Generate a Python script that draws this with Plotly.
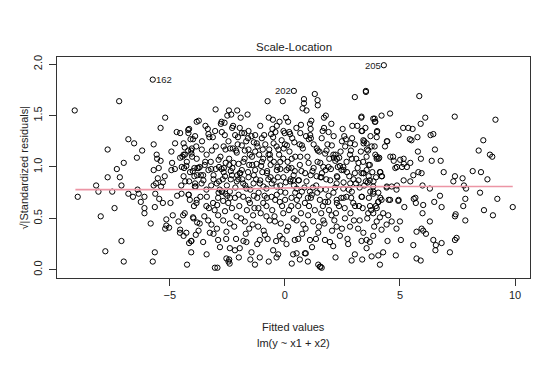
import plotly.graph_objects as go

# (fitted value, sqrt(|standardized residual|))
left_points = [
    (-9.13,1.55),(-9.0,0.71),(-7.2,1.64),(-8.2,0.82),(-8.1,0.76),(-8.0,0.52),(-7.7,1.17),(-7.7,0.90),
    (-7.8,0.18),(-7.5,0.76),(-7.4,0.60),(-7.3,0.98),(-7.17,0.90),(-7.1,0.82),(-7.1,0.28),(-7.0,1.04),
    (-7.0,0.08),(-6.8,1.27),(-6.8,0.74),(-6.6,0.71),(-6.55,1.23),(-6.43,1.09),(-6.4,0.78),(-6.35,0.74),
    (-6.26,0.66),(-6.2,1.16),(-6.1,0.71),(-6.1,0.60),(-6.1,0.55),(-5.83,0.45),(-5.74,0.08),(-5.65,0.17),
    (-5.7,1.22),(-5.7,0.97),(-5.7,0.82),(-5.6,0.84),(-5.57,1.12),(-5.55,1.08),(-5.65,0.61),(-5.63,0.74),
    (-5.52,0.89),(-5.48,0.99),(-5.46,0.69),(-5.4,1.06),(-5.4,1.38),(-5.38,0.81),(-5.3,0.85),(-5.2,1.48),
    (-5.3,0.65),(-5.22,0.91),(-5.2,0.40),(-5.15,0.49),(-5.15,0.43),(-5.03,0.41),(-4.97,0.65),(-4.93,0.97),
    (-4.93,1.15),(-4.9,1.04),(-4.87,0.53),(-4.77,1.23),(-4.78,0.98),(-4.7,1.34),(-4.68,0.72),(-4.62,0.47),
    (-4.56,0.36),(-4.55,1.09),(-4.55,0.39),(-4.5,0.82),(-4.42,0.53),(-4.4,0.33),(-4.4,0.91),(-4.38,0.99),
    (-4.34,1.12),(-4.26,1.05),(-4.25,0.05),(-4.2,1.16),(-4.2,1.36),(-4.17,0.73),(-4.1,1.27),(-4.07,1.16),
    (-4.16,0.26),(-4.07,0.28),(-4.07,0.17),(-4.03,1.10),(-4.0,0.96),(-3.97,0.50),(-3.93,0.91),(-3.87,0.34),
    (-3.83,1.44),(-3.88,0.81),(-3.81,0.46),(-3.8,0.99),(-2.93,0.02),(-2.45,0.08),(-2.4,0.06),
]

centre_points = [
    (-0.09,1.64),(-0.75,1.64),(0.83,1.66),(0.83,1.62),(1.30,1.71),(1.42,1.65),(1.43,1.60),(0.77,1.57),
    (0.94,1.55),(3.04,1.68),(3.52,1.74),(-3.01,1.56),(-2.43,1.55),(-2.33,1.51),(-2.07,1.55),(-1.62,1.51),
    (-2.5,1.50),(-3.74,1.45),(-2.75,1.44),(-2.62,1.43),(-1.07,1.40),(-0.52,1.46),(-0.23,1.44),(0.14,1.44),
    (0.70,1.41),(1.09,1.42),(1.70,1.48),(1.78,1.50),(2.51,1.37),(2.93,1.40),(3.32,1.48),(3.9,1.47),
    (3.93,1.44),(3.36,1.35),(-4.16,1.37),(-3.35,1.37),(-3.28,1.29),(-3.13,1.29),(-3.99,1.27),(-2.29,1.38),
    (-1.96,1.38),(-1.76,1.33),(-1.6,1.28),(-1.35,1.24),(-1.29,1.15),(-1.19,1.20),(-2.04,1.29),(-2.61,1.31),
    (-2.58,1.17),(-2.26,1.18),(-2.12,1.16),(-1.74,1.16),(-1.52,1.12),(-0.54,1.37),(-0.41,1.34),(-0.51,1.29),
    (-0.01,1.33),(0.19,1.34),(0.41,1.24),(0.64,1.22),(0.0,1.22),(-0.68,1.17),(-0.65,1.12),(-0.36,1.20),
    (-0.14,1.26),(1.12,1.37),(1.13,1.28),(1.04,1.27),(1.64,1.35),(1.43,1.16),(1.81,1.16),(2.13,1.09),
    (2.2,1.12),(2.19,1.06),(2.36,1.09),(2.39,1.01),(2.54,1.00),(1.93,1.08),(1.9,1.00),(1.77,0.97),
    (1.67,1.00),(2.46,0.97),(2.65,1.27),(2.87,1.16),(2.83,1.12),(3.04,1.22),(3.45,1.25),(3.77,1.20),
    (3.99,1.29),(3.55,1.10),(3.99,1.10),(3.16,0.99),(3.04,0.94),(3.41,0.94),(2.8,0.91),(3.96,0.90),
    (-4.35,1.19),(-4.45,1.10),(-4.06,1.13),(-4.28,1.01),(-3.93,0.99),(-3.7,1.00),(-3.48,1.02),(-3.81,0.92),
    (-3.55,0.92),(-3.2,0.98),(-3.0,0.98),(-2.86,1.00),(-2.75,0.98),(-2.65,0.99),(-2.57,1.04),(-2.41,1.02),
    (-2.28,0.99),(-2.01,1.03),(-1.96,0.94),(-1.87,0.97),(-2.07,0.92),(-3.1,0.88),(-2.86,0.86),(-2.6,0.91),
    (-2.35,0.88),(-1.55,1.02),(-1.35,0.92),(-1.23,1.03),(-1.03,1.01),(-0.94,1.08),(-0.77,0.96),(-0.62,1.02),
    (-0.32,1.00),(-0.07,1.08),(0.07,0.97),(0.29,0.99),(0.43,0.96),(0.36,0.87),(0.72,0.96),(0.61,0.87),
    (0.94,0.86),(1.2,0.96),(1.38,0.91),(1.59,0.90),(-4.16,0.86),(-3.91,0.81),(-3.62,0.84),(-3.41,0.78),
    (-2.83,0.78),(-2.72,0.76),(-2.58,0.74),(-2.39,0.76),(-1.81,0.84),(-1.67,0.79),(-1.09,0.84),(-0.8,0.79),
    (-0.36,0.81),(-0.19,0.76),(0.04,0.85),(0.51,0.79),(1.09,0.76),(1.41,0.75),(1.78,0.78),(2.25,0.84),
    (2.54,0.79),(3.09,0.84),(3.52,0.86),(3.84,0.76),(-4.49,0.74),(-4.13,0.68),(-3.84,0.65),(-3.67,0.71),
    (-3.41,0.62),(-3.12,0.65),(-2.94,0.63),(-2.68,0.67),(-2.46,0.65),(-2.17,0.70),(-1.81,0.71),(-1.52,0.65),
    (-1.2,0.70),(-0.94,0.65),(-0.58,0.71),(-0.22,0.66),(0.29,0.70),(0.58,0.62),(0.87,0.65),(1.13,0.70),
    (1.52,0.68),(1.88,0.66),(2.25,0.68),(2.68,0.71),(2.97,0.65),(3.33,0.71),(3.7,0.62),(4.06,0.66),
    (-4.35,0.55),(-3.99,0.51),(-3.7,0.45),(-3.33,0.48),(-3.19,0.44),(-2.9,0.53),(-2.39,0.45),(-2.1,0.52),
    (-1.74,0.47),(-1.38,0.53),(-1.16,0.42),(-0.8,0.52),(-0.43,0.47),(-0.07,0.55),(0.14,0.42),(0.51,0.48),
    (0.8,0.44),(1.01,0.53),(1.23,0.47),(1.67,0.48),(2.03,0.53),(2.25,0.42),(2.61,0.50),(2.83,0.42),
    (3.25,0.48),(3.62,0.55),(3.99,0.47),(-4.28,0.36),(-4.06,0.28),(-3.55,0.27),(-3.26,0.36),(-2.9,0.29),
    (-2.54,0.37),(-2.39,0.21),(-2.17,0.19),(-1.96,0.21),(-1.67,0.27),(-1.45,0.17),(-1.09,0.29),(-0.87,0.34),
    (-0.51,0.19),(-0.29,0.15),(-0.22,0.33),(0.07,0.25),(0.43,0.29),(0.51,0.16),(0.87,0.16),(1.09,0.29),
    (1.45,0.36),(1.74,0.29),(1.96,0.27),(2.1,0.23),(2.39,0.33),(2.75,0.25),(3.04,0.15),(3.33,0.28),
    (3.55,0.21),(3.84,0.33),(-3.04,0.02),(-2.54,0.11),(-2.42,0.10),(-1.09,0.12),(-0.36,0.12),(0.36,0.15),
    (0.91,0.16),(1.45,0.05),(1.52,0.03),(3.36,0.10),(3.77,0.13),(1.55,0.03),(1.6,0.02),
    (-4.55,1.33),(-4.19,1.33),(-3.9,1.30),(-3.32,1.32),(-3.03,1.35),(-2.74,1.34),(-2.16,1.31),(-1.87,1.33),
    (-1.58,1.35),(-1.29,1.31),(-0.9,1.31),(-0.06,1.35),(0.23,1.32),(-4.4,1.23),(-4.04,1.18),(-4.4,1.12),
    (-3.61,1.17),(-3.17,1.16),(-2.66,1.20),(-2.38,1.18),(-2.09,1.14),(-1.87,1.21),(-1.58,1.17),(-1.22,1.23),
    (-0.96,1.17),(-0.71,1.12),(-0.49,1.23),(-0.28,1.17),(0.09,1.21),(0.3,1.08),(-3.83,1.08),(-3.46,1.05),
    (-2.88,1.07),(-2.23,1.04),(-1.8,1.05),(-1.43,1.10),(-1.0,1.05),(-0.64,1.08),(-0.2,1.05),(0.16,0.99),
    (-4.48,1.00),(-4.12,0.95),(-3.75,0.99),(-3.32,0.97),(-3.1,0.92),(-2.66,0.95),(-2.3,0.92),(-1.94,0.94),
    (-1.58,0.90),(-1.29,0.97),(-1.07,0.87),(-0.78,0.94),(-0.49,0.87),(-0.35,0.97),(-0.06,0.90),(0.38,0.92),
    (-4.33,0.86),(-3.9,0.84),(-3.54,0.87),(-2.96,0.84),(-2.52,0.82),(-2.09,0.86),(-1.72,0.82),(-1.36,0.84),
    (-0.93,0.81),(-0.57,0.84),(-0.2,0.82),(0.23,0.86),(-4.19,0.73),(-3.83,0.68),(-3.39,0.71),(-2.88,0.75),
    (-2.74,0.76),(-2.38,0.70),(-2.01,0.73),(-1.58,0.68),(-1.14,0.75),(-0.78,0.70),(-0.35,0.73),(0.01,0.68),
    (0.45,0.75),(0.67,1.33),(1.1,1.31),(1.9,1.34),(2.48,1.25),(2.84,1.23),(3.42,1.23),(4.0,1.34),
    (4.43,1.25),(4.94,1.31),(0.74,1.21),(1.39,1.18),(2.04,1.21),(2.62,1.20),(3.56,1.17),(3.93,1.12),
    (4.07,1.08),(5.16,1.08),(5.45,1.04),(0.67,1.10),(1.03,1.04),(1.54,1.04),(1.75,1.13),(2.11,1.12),
    (2.26,1.08),(2.55,0.97),(2.91,1.08),(3.2,1.04),(3.42,0.94),(3.64,1.02),(4.15,0.95),(4.22,0.91),
    (4.58,1.10),(5.01,1.07),(5.3,1.00),(5.45,0.86),(0.59,0.87),(0.88,0.94),(1.25,0.99),(1.61,0.94),
    (1.97,0.87),(2.26,0.91),(2.84,0.84),(3.2,0.87),(3.64,0.91),(3.85,0.86),(4.43,0.81),(4.87,0.82),
    (5.16,0.87),(0.74,0.76),(1.17,0.73),(1.54,0.78),(2.11,0.75),(2.55,0.70),(2.91,0.76),(3.35,0.71),
    (3.71,0.76),(4.15,0.70),(4.51,0.68),(4.94,0.68),(5.67,0.70),(1.75,0.66),(2.26,0.65),
]

centre_points_dense = [
    (-3.6,1.25),(-3.4,1.12),(-3.2,0.82),(-3.05,0.58),(-2.95,0.40),(-2.8,1.10),(-2.7,0.88),(-2.6,0.57),
    (-2.55,0.30),(-2.45,1.25),(-2.35,0.96),(-2.3,0.60),(-2.2,0.42),(-2.15,0.80),(-2.05,1.22),(-1.98,0.62),
    (-1.9,0.50),(-1.85,0.88),(-1.75,1.08),(-1.7,0.35),(-1.65,0.58),(-1.6,0.95),(-1.5,0.78),(-1.45,1.30),
    (-1.4,0.44),(-1.32,0.60),(-1.25,0.88),(-1.2,0.25),(-1.12,1.12),(-1.05,0.55),(-0.98,0.95),(-0.92,0.38),
    (-0.85,1.22),(-0.8,0.62),(-0.72,0.88),(-0.66,0.48),(-0.6,1.32),(-0.55,0.58),(-0.48,1.05),(-0.42,0.68),
    (-0.38,0.28),(-0.3,0.90),(-0.25,1.12),(-0.18,0.45),(-0.12,0.62),(-0.05,1.18),(0.02,0.75),(0.08,0.38),
    (0.12,1.05),(0.18,0.58),(0.25,0.88),(0.32,1.28),(0.38,0.50),(0.45,1.10),(0.52,0.68),(0.58,0.30),
    (0.65,1.02),(0.7,0.55),(0.78,1.18),(0.85,0.80),(0.9,0.40),(0.98,1.10),(1.05,0.62),(1.12,0.92),
    (1.18,0.22),(1.25,1.22),(1.3,0.58),(1.36,0.82),(1.42,1.05),(1.48,0.42),(1.55,0.90),(1.6,1.28),
    (1.65,0.62),(1.72,0.45),(1.8,0.88),(1.85,1.22),(1.92,0.58),(2.0,0.98),(2.05,0.38),(2.12,1.30),
    (2.18,0.80),(2.22,0.55),(2.3,1.00),(2.35,0.62),(2.42,1.15),(2.48,0.40),(2.55,0.85),(2.6,0.60),
    (2.68,1.05),(2.72,0.30),(2.78,0.78),(2.85,0.55),(2.92,1.28),(2.98,0.88),(3.05,0.62),(3.1,1.08),
    (3.18,0.40),(3.25,0.80),(3.3,1.15),(3.38,0.60),(3.45,0.82),(3.5,1.38),(3.58,0.50),(3.65,0.70),
    (3.72,1.30),(3.8,0.95),(3.88,0.42),(3.95,0.62),(-3.95,0.62),(-3.85,1.20),(-3.75,0.38),(-3.65,0.92),
    (-3.5,0.52),(-3.45,1.40),(-3.3,0.60),(-3.22,1.05),(-3.1,0.35),(-3.0,1.20),(-2.9,0.70),(-2.82,0.22),
    (-2.78,1.42),(-2.68,0.48),(-2.5,0.72),(-2.42,1.08),(-2.25,1.40),(-2.12,0.30),(-2.02,0.88),(-1.92,1.48),
    (-1.8,0.28),(-1.68,1.25),(-1.55,0.40),(-1.42,1.02),(-1.35,0.72),(-1.15,0.60),(-1.0,1.28),(-0.88,0.72),
    (-0.75,0.30),(-0.7,1.48),(-0.62,0.90),(-0.45,0.52),(-0.35,1.40),(-0.2,0.98),(-0.1,0.30),(0.05,1.48),
    (0.2,1.15),(0.28,0.62),(0.4,0.82),(0.5,1.38),(0.62,0.72),(0.75,0.35),(0.92,1.30),(1.0,0.70),
    (1.15,1.45),(1.22,0.80),(1.35,0.30),(1.5,1.15),(1.58,0.55),(1.7,1.38),(1.9,0.72),(2.02,1.42),
    (2.15,0.48),(2.28,0.90),(2.45,0.70),(2.58,1.30),(2.7,0.95),(2.88,0.70),(3.0,0.48),(3.15,1.40),
    (3.22,0.62),(3.4,1.05),(3.6,0.85),(3.75,0.58),(3.9,1.20),(-2.0,0.12),(-1.5,0.10),(-0.7,0.08),
    (0.3,0.06),(1.0,0.08),(2.2,0.12),(2.9,0.09),(-3.4,0.15),(-1.3,0.05),(0.65,0.10),
]

right_points = [
    (3.52,1.73),(5.84,1.69),(3.33,1.49),(4.2,1.50),(4.57,1.52),(3.84,1.47),(3.91,1.44),(4.01,1.35),
    (3.33,1.35),(5.14,1.38),(5.36,1.38),(5.55,1.37),(5.9,1.42),(6.1,1.48),(7.38,1.49),(9.15,1.46),
    (5.43,1.27),(5.5,1.26),(5.76,1.29),(6.33,1.31),(6.45,1.32),(6.52,1.17),(5.78,1.15),(5.91,1.08),
    (6.38,1.06),(6.77,1.06),(4.7,1.10),(4.73,1.06),(4.8,0.99),(4.87,1.00),(5.17,1.03),(5.09,1.00),
    (5.58,0.92),(5.8,0.95),(5.94,0.94),(5.98,0.82),(6.3,0.79),(6.9,0.95),(7.39,0.91),(7.32,0.86),
    (7.72,0.89),(7.78,0.82),(7.87,0.79),(8.16,0.96),(8.52,0.95),(8.8,0.88),(8.62,1.26),(8.42,1.16),
    (8.91,1.12),(9.01,1.10),(8.48,0.75),(9.23,0.69),(9.9,0.61),(8.65,0.58),(9.04,0.53),(7.84,0.69),
    (7.75,0.62),(7.84,0.48),(7.42,0.54),(7.39,0.52),(6.74,0.72),(6.81,0.61),(6.49,0.66),(6.01,0.63),
    (5.98,0.55),(6.3,0.47),(5.6,0.69),(5.69,0.65),(5.19,0.61),(4.93,0.67),(5.0,0.47),(4.85,0.40),
    (5.94,0.40),(6.01,0.38),(6.13,0.35),(5.72,0.37),(6.45,0.29),(6.56,0.24),(6.54,0.19),(6.81,0.26),
    (7.39,0.29),(7.46,0.31),(7.17,0.17),(5.58,0.24),(5.04,0.29),(4.82,0.14),(5.72,0.11),(4.46,0.28),
    (4.13,0.05),(4.27,0.17),(4.06,0.14),(4.2,0.39),(4.42,0.44),(4.13,0.51),(4.64,0.47),(4.49,0.53),
    (4.27,0.55),(3.84,0.55),(3.99,0.60),(4.2,0.68),(4.06,0.66),(4.57,0.68),(4.42,0.80),(4.64,0.81),
    (4.85,0.78),(4.06,0.75),(3.84,0.74),(4.2,0.91),(4.13,0.95),(3.99,1.08),(4.1,1.09),(4.45,1.25),
    (4.35,1.20),(3.62,1.16),(3.55,1.23),(3.41,1.26),(3.69,1.02),(3.55,0.97),(3.33,0.94),(3.69,0.87),
    (3.84,0.81),(3.41,0.36),(3.55,0.29),(3.69,0.27),(5.9,0.09),
]

labelled_ids = ["162", "202", "205"]
labelled_x = [-5.74, 0.39, 4.30]
labelled_y = [1.85, 1.74, 1.99]
label_anchor = ["left", "right", "right"]
label_shift = [1, -1, -1]

smooth_x = [-9.1, -6.0, -4.0, -2.0, 0.0, 2.0, 4.0, 6.0, 8.0, 9.9]
smooth_y = [0.780, 0.780, 0.781, 0.786, 0.795, 0.804, 0.809, 0.810, 0.810, 0.810]

x_ticks = [-5, 0, 5, 10]
y_ticks = [0.0, 0.5, 1.0, 1.5, 2.0]
y_tick_text = ["0.0", "0.5", "1.0", "1.5", "2.0"]

all_points = left_points + centre_points + centre_points_dense + right_points
fitted = [p[0] for p in all_points] + labelled_x
resid = [p[1] for p in all_points] + labelled_y

FONT = "Liberation Sans, Arial, sans-serif"
TXT = "#222222"

fig = go.Figure()
fig.add_trace(go.Scatter(
    x=fitted, y=resid, mode="markers",
    marker=dict(symbol="circle-open", size=5.3, color="black", line=dict(width=1, color="black")),
    hoverinfo="x+y", showlegend=False,
))
fig.add_trace(go.Scatter(
    x=smooth_x, y=smooth_y, mode="lines", line=dict(color="#EC95A5", width=1.6, shape="spline"),
    showlegend=False, hoverinfo="skip",
))

annotations = [
    dict(text="Scale-Location", xref="paper", yref="paper", x=0.5, y=1, yanchor="middle",
         yshift=10, showarrow=False, font=dict(size=11.5)),
    dict(text="Fitted values", xref="paper", yref="paper", x=0.5, y=0, yanchor="middle",
         yshift=-49, showarrow=False, font=dict(size=11)),
    dict(text="lm(y ~ x1 + x2)", xref="paper", yref="paper", x=0.5, y=0, yanchor="middle",
         yshift=-65, showarrow=False, font=dict(size=11)),
    dict(text="√|Standardized residuals|", xref="paper", yref="paper", x=0, y=0.5,
         xanchor="center", yanchor="middle", xshift=-34, textangle=-90, showarrow=False,
         font=dict(size=11)),
]
for lid, lx, ly, anc, sh in zip(labelled_ids, labelled_x, labelled_y, label_anchor, label_shift):
    annotations.append(dict(text=lid, x=lx, y=ly, xref="x", yref="y", xanchor=anc, yanchor="middle",
                            xshift=sh, showarrow=False, font=dict(family=FONT, size=9.5, color=TXT)))

fig.update_layout(
    width=560, height=373,
    margin=dict(l=57, r=30, t=57, b=95),
    paper_bgcolor="white", plot_bgcolor="white",
    font=dict(family=FONT, size=11, color=TXT),
    xaxis=dict(range=[-9.9, 10.65], tickvals=x_ticks, ticks="outside", ticklen=7, tickcolor="#333",
               showgrid=False, zeroline=False, showline=True, linecolor="#333", linewidth=1, mirror=True,
               tickfont=dict(size=11), automargin=False),
    yaxis=dict(range=[-0.08, 2.07], tickvals=y_ticks, ticktext=y_tick_text, tickangle=-90,
               ticks="outside", ticklen=7, tickcolor="#333", ticklabelstandoff=3,
               showgrid=False, zeroline=False, showline=True, linecolor="#333", linewidth=1, mirror=True,
               tickfont=dict(size=11), automargin=False),
    annotations=annotations,
)

fig.write_html("out.html", config={"displayModeBar": False},
               post_script="document.body.style.margin='0';document.body.style.overflow='hidden';")
